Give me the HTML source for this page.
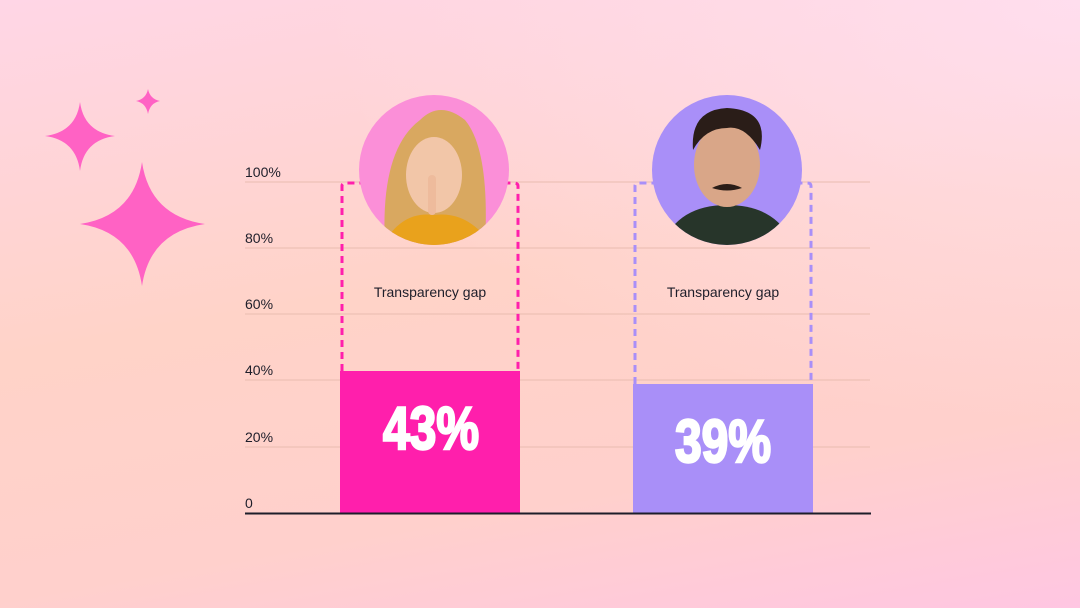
<!DOCTYPE html>
<html><head><meta charset="utf-8"><style>
html,body{margin:0;padding:0;}
body{width:1080px;height:608px;overflow:hidden;background:linear-gradient(170deg,#ffd6e6 0%,#ffd3c8 45%,#ffd0cc 75%,#ffc6e2 100%);}
</style></head><body>
<svg width="1080" height="608" viewBox="0 0 1080 608" xmlns="http://www.w3.org/2000/svg" style="position:absolute;left:0;top:0">
<defs>
<radialGradient id="bg2" cx="1" cy="0" r="0.7"><stop offset="0" stop-color="#ffe0f4" stop-opacity="0.8"/><stop offset="1" stop-color="#ffe0f4" stop-opacity="0"/></radialGradient>
<clipPath id="c1"><circle cx="434" cy="170" r="75"/></clipPath>
<clipPath id="c2"><circle cx="727" cy="170" r="75"/></clipPath>
</defs>
<rect width="1080" height="608" fill="url(#bg2)"/>
<g fill="#ff62c4">
<path d="M80,102 Q84,132 115,136 Q84,140 80,171 Q76,140 45,136 Q76,132 80,102Z"/>
<path d="M148,89 Q150,99 160,101 Q150,103 148,114 Q146,103 136,101 Q146,99 148,89Z"/>
<path d="M142,162 Q150,216 205,224 Q150,232 142,286 Q134,232 80,224 Q134,216 142,162Z"/>
</g>
<g stroke="#e8bcb0" stroke-width="1">
<line x1="245" y1="182" x2="870" y2="182"/><line x1="245" y1="248" x2="870" y2="248"/>
<line x1="245" y1="314" x2="870" y2="314"/><line x1="245" y1="380" x2="870" y2="380"/>
<line x1="245" y1="447" x2="870" y2="447"/>
</g>
<g font-family="Liberation Sans, sans-serif" font-size="14" fill="#1e1e2a">
<text x="245" y="177">100%</text><text x="245" y="243">80%</text><text x="245" y="309">60%</text>
<text x="245" y="375">40%</text><text x="245" y="442">20%</text><text x="245" y="508">0</text>
</g>
<path d="M342,371 V186 Q342,183 346,183 H514 Q518,183 518,186 V371" fill="none" stroke="#ff1fac" stroke-width="3" stroke-dasharray="7,5"/>
<path d="M635,384 V186 Q635,183 639,183 H807 Q811,183 811,186 V384" fill="none" stroke="#a98ff8" stroke-width="3" stroke-dasharray="7,5"/>
<rect x="340" y="371" width="180" height="142" fill="#ff1fac"/>
<rect x="633" y="384" width="180" height="129" fill="#a98ff8"/>
<line x1="245" y1="513.5" x2="871" y2="513.5" stroke="#1e1e2a" stroke-width="2"/>
<g font-family="Liberation Sans, sans-serif" font-size="14" fill="#1e1e2a" text-anchor="middle">
<text x="430" y="297">Transparency gap</text><text x="723" y="297">Transparency gap</text>
</g>
<g font-family="Liberation Sans, sans-serif" font-weight="bold" font-size="60" fill="#fff" stroke="#fff" stroke-width="2.5" text-anchor="middle">
<text transform="translate(431,449) scale(0.8,1)">43%</text>
<text transform="translate(723,462) scale(0.8,1)">39%</text>
</g>
<circle cx="434" cy="170" r="75" fill="#fb8fd8"/>
<g clip-path="url(#c1)">
<path d="M385,245 Q380,150 420,120 Q440,100 465,120 Q490,150 485,245Z" fill="#d9a860"/>
<path d="M380,250 Q400,210 434,215 Q470,210 495,250Z" fill="#e9a21c"/>
<ellipse cx="434" cy="175" rx="28" ry="38" fill="#f2c6a8"/>
<rect x="428" y="175" width="8" height="40" rx="4" fill="#eebb9c"/>
</g>
<circle cx="727" cy="170" r="75" fill="#a98ff8"/>
<g clip-path="url(#c2)">
<path d="M660,250 Q675,205 727,205 Q780,205 795,250Z" fill="#27352a"/>
<ellipse cx="727" cy="165" rx="33" ry="42" fill="#d9a688"/>
<path d="M693,150 Q690,110 727,108 Q770,110 760,150 Q745,125 727,128 Q705,128 693,150Z" fill="#2a1d18"/>
<path d="M712,188 Q727,180 742,188 Q727,193 712,188Z" fill="#2a1d18"/>
</g>
</svg>
</body></html>
